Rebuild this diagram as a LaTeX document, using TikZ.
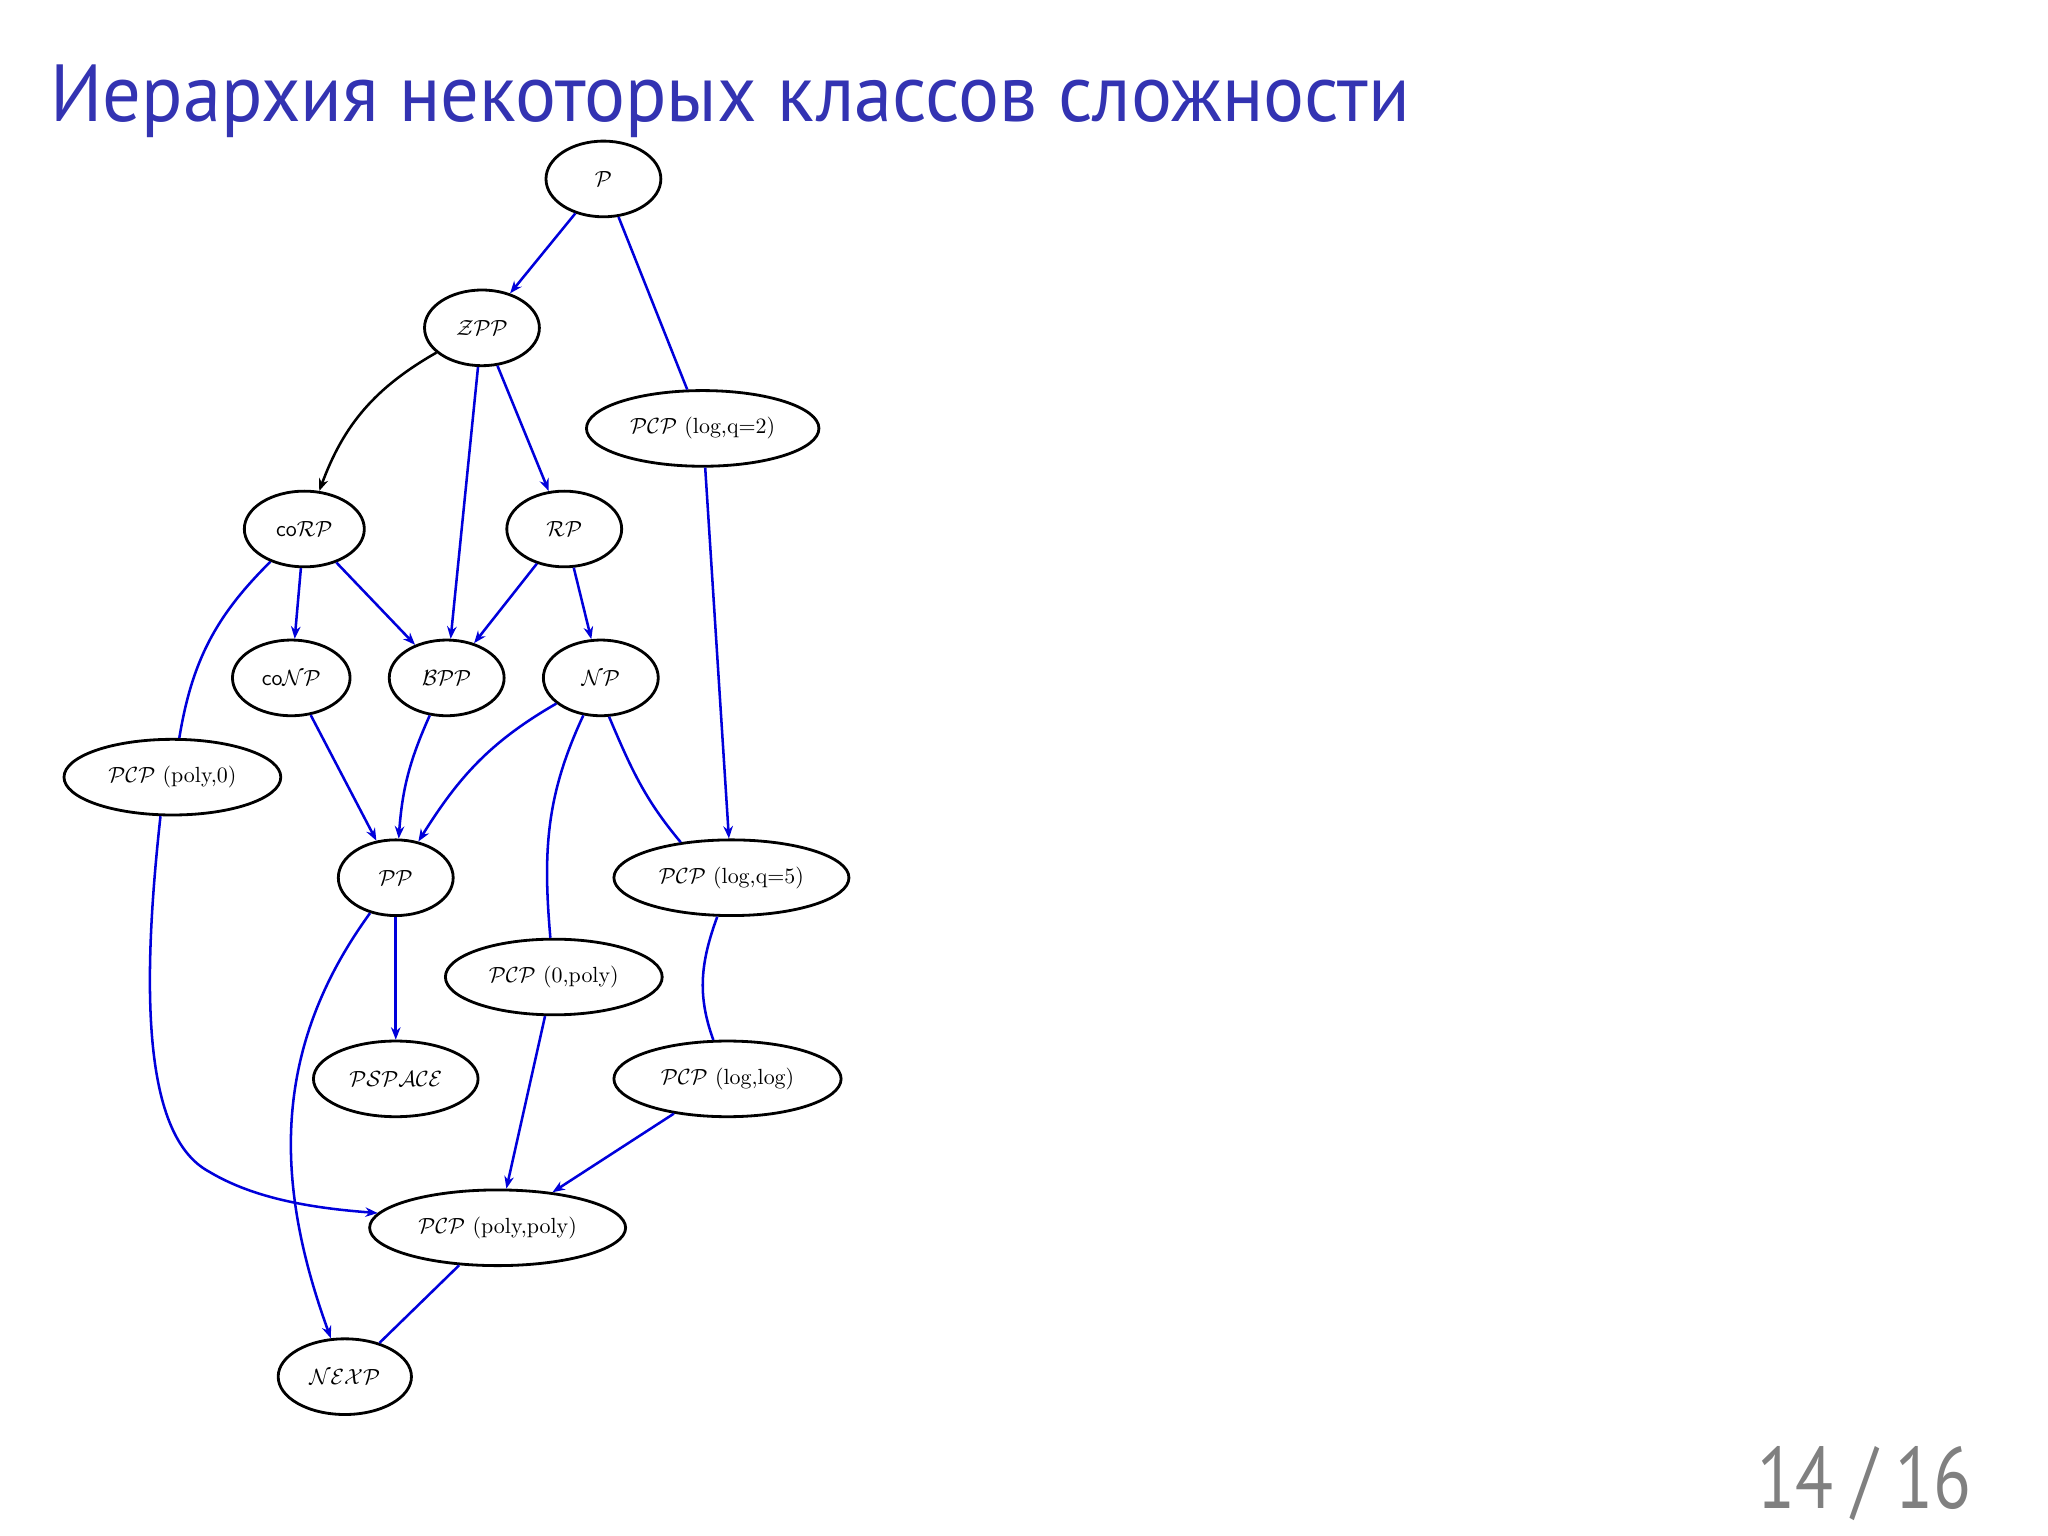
\documentclass[tikz,border=0pt]{standalone}
\usepackage{fontspec}
\usepackage{amsmath, amssymb}
\usepackage{graphicx}
\usepackage{xcolor}
\usepackage{tikz}
\usetikzlibrary{shapes.geometric, arrows.meta}
\newfontfamily\slidefont{PT Sans}
\definecolor{framecol}{rgb}{0.2,0.2,0.7}
\definecolor{edgeblue}{rgb}{0,0,0.86}
\newcommand{\lbl}[1]{\scalebox{0.39}{#1}}

\begin{document}
\begin{tikzpicture}[x=0.08163mm, y=0.08163mm,
  cls/.style={ellipse, draw, line width=0.5pt, inner sep=0pt, minimum height=4.73mm},
  inc/.style={draw=edgeblue, line width=0.45pt, -{Stealth[length=2.2pt,width=1.7pt]}},
  eq/.style={draw=edgeblue, line width=0.45pt}]
\fill[white] (0,0) rectangle (1568,-1176);

\node[anchor=base west, inner sep=0pt, text=framecol, font=\slidefont\fontsize{14.4}{17}\selectfont] (title) at (38,-93) {\scalebox{0.946}[1]{Иерархия некоторых классов сложности}};
\node[anchor=base west, inner sep=0pt, text=gray, font=\slidefont\fontsize{15.5}{18}\selectfont] (pagenum) at (1345,-1155) {\scalebox{0.8}[1]{14 / 16}};

\node[cls, minimum width=7.18mm] (P) at (462,-137) {\lbl{$\mathcal{P}$}};
\node[cls, minimum width=7.18mm] (ZPP) at (369,-251) {\lbl{$\mathcal{ZPP}$}};
\node[cls, minimum width=14.53mm] (lq2) at (538,-328) {\lbl{$\mathcal{PCP}$ (log,q=2)}};
\node[cls, minimum width=7.5mm] (coRP) at (233,-405) {\lbl{\textsf{co}$\mathcal{RP}$}};
\node[cls, minimum width=7.18mm] (RP) at (432,-405) {\lbl{$\mathcal{RP}$}};
\node[cls, minimum width=7.35mm] (coNP) at (223,-519) {\lbl{\textsf{co}$\mathcal{NP}$}};
\node[cls, minimum width=7.18mm] (BPP) at (342,-519) {\lbl{$\mathcal{BPP}$}};
\node[cls, minimum width=7.18mm] (NP) at (460,-519) {\lbl{$\mathcal{NP}$}};
\node[cls, minimum width=13.55mm] (p0) at (132,-595) {\lbl{$\mathcal{PCP}$ (poly,0)}};
\node[cls, minimum width=7.18mm] (PP) at (303,-672) {\lbl{$\mathcal{PP}$}};
\node[cls, minimum width=14.69mm] (lq5) at (560,-672) {\lbl{$\mathcal{PCP}$ (log,q=5)}};
\node[cls, minimum width=13.55mm] (zp) at (424,-748) {\lbl{$\mathcal{PCP}$ (0,poly)}};
\node[cls, minimum width=10.29mm] (PSPACE) at (303,-826) {\lbl{$\mathcal{PSPACE}$}};
\node[cls, minimum width=14.2mm] (ll) at (557,-826) {\lbl{$\mathcal{PCP}$ (log,log)}};
\node[cls, minimum width=16mm] (pp) at (381,-940) {\lbl{$\mathcal{PCP}$ (poly,poly)}};
\node[cls, minimum width=8.33mm] (NEXP) at (264,-1054) {\lbl{$\mathcal{NEXP}$}};

\draw[inc] (P) -- (ZPP);
\draw[eq] (P) -- (lq2);
\draw[line width=0.45pt, -{Stealth[length=2.2pt,width=1.7pt]}] (ZPP) to[bend right=20] (coRP);
\draw[inc] (ZPP) -- (BPP);
\draw[inc] (ZPP) -- (RP);
\draw[inc] (lq2) -- (lq5);
\draw[inc] (coRP) -- (coNP);
\draw[inc] (coRP) -- (BPP);
\draw[eq] (coRP) to[bend right=18] (p0);
\draw[inc] (RP) -- (BPP);
\draw[inc] (RP) -- (NP);
\draw[inc] (coNP) -- (PP);
\draw[inc] (BPP) to[bend right=10] (PP);
\draw[inc] (NP) to[out=210,in=58] (PP);
\draw[eq] (NP) to[out=245,in=95] (zp);
\draw[eq] (NP.282) to[out=293,in=130] (lq5.145);
\draw[inc] (p0.253) .. controls (108,-760) and (110,-870) .. (160,-897) .. controls (195,-918) and (240,-925) .. (pp.173);
\draw[inc] (PP) -- (PSPACE);
\draw[inc] (PP) to[out=234,in=110] (NEXP);
\draw[inc] (zp) -- (pp);
\draw[eq] (lq5) to[out=250,in=110] (ll);
\draw[inc] (ll) -- (pp);
\draw[eq] (pp) -- (NEXP);
\end{tikzpicture}
\end{document}
